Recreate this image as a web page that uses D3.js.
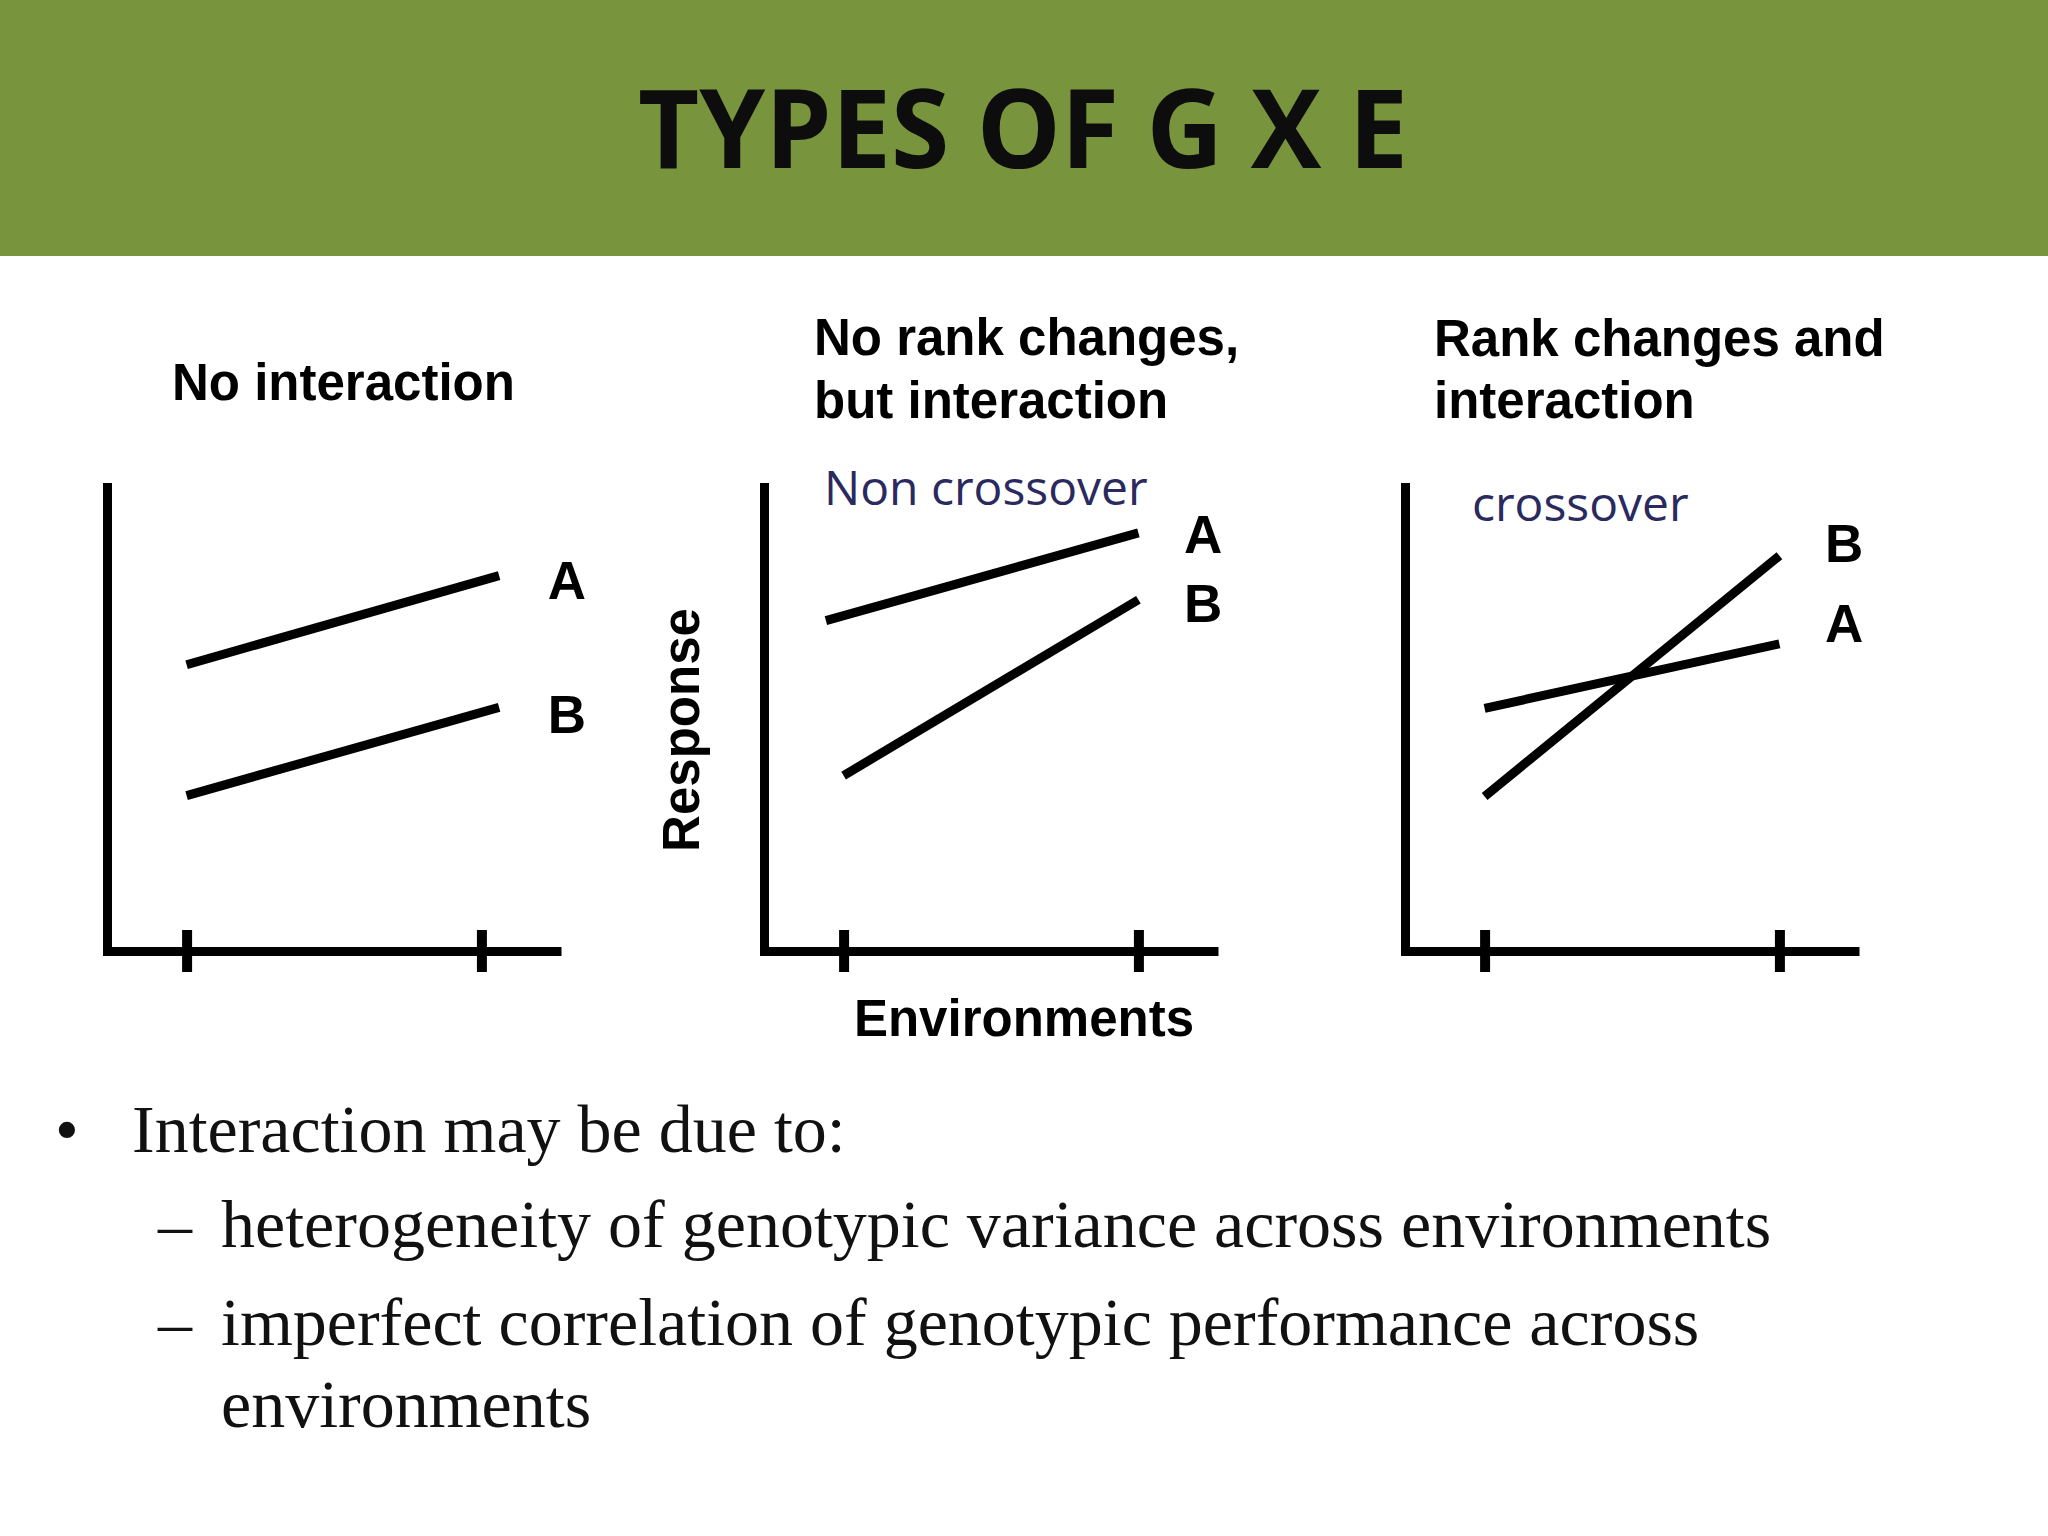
<!DOCTYPE html>
<html>
<head>
<meta charset="utf-8">
<script src="https://cdn.jsdelivr.net/npm/d3@7"></script>
<style>
  html, body { margin: 0; padding: 0; background: #ffffff; }
  svg { display: block; }
</style>
</head>
<body>
<div id="chart"></div>
<script>
// ---------------- data ----------------
const slideTitle = "TYPES OF G X E";
const panelTitles = [
  ["No interaction"],
  ["No rank changes,", "but interaction"],
  ["Rank changes and", "interaction"]
];
const panelNotes = ["", "Non crossover", "crossover"];
const genotypes = ["A", "B"];
const environments = [0, 1];          // the two environment ticks

// x positions (environment units) of each line's two ends
const noInterX_A = [0, 1.06];
const noInterX_B = [0, 1.06];
const nonCrossX_A = [-0.06, 1];
const nonCrossX_B = [0, 1];
const crossX_A = [0, 1];
const crossX_B = [0, 1];

// responses (0..10 response units) at the two ends
const noInterA = [6.17, 8.09];
const noInterB = [3.35, 5.25];
const nonCrossA = [7.12, 9.01];
const nonCrossB = [3.78, 7.57];
const crossA = [5.23, 6.62];
const crossB = [3.33, 8.52];

// label positions (x in env units, y in response units) for A and B
const labelX = [1.29, 1.22, 1.22];
const labelYA = [8.0, 8.98, 7.08];
const labelYB = [5.12, 7.5, 8.8];

const yAxisLabel = "Response";
const xAxisLabel = "Environments";

const bulletMain = "Interaction may be due to:";
const subBullets = [
  "heterogeneity of genotypic variance across environments",
  "imperfect correlation of genotypic performance across"
];
const subBulletWrap = "environments";

// ---------------- drawing ----------------
const W = 2048, H = 1536;
const svg = d3.select("#chart").append("svg")
  .attr("width", W).attr("height", H)
  .attr("viewBox", `0 0 ${W} ${H}`);

svg.append("rect").attr("width", W).attr("height", H).attr("fill", "#ffffff");

// header band
svg.append("rect").attr("x", 0).attr("y", 0).attr("width", W).attr("height", 256)
  .attr("fill", "#78943d");
svg.append("text")
  .attr("x", 638).attr("y", 168)
  .attr("textLength", 770).attr("lengthAdjust", "spacingAndGlyphs")
  .attr("font-family", "'Open Sans', 'Liberation Sans', sans-serif")
  .attr("font-weight", 700).attr("font-size", 109)
  .attr("fill", "#0d0d0d")
  .text(slideTitle);

const sans = "'Liberation Sans', Arial, Helvetica, sans-serif";
const serif = "'Liberation Serif', 'Times New Roman', serif";

const panelSeries = [
  { A: { x: noInterX_A, y: noInterA }, B: { x: noInterX_B, y: noInterB } },
  { A: { x: nonCrossX_A, y: nonCrossA }, B: { x: nonCrossX_B, y: nonCrossB } },
  { A: { x: crossX_A, y: crossA }, B: { x: crossX_B, y: crossB } }
];

// layout of the three small plots
const panelLayout = [
  { ox: 107, titleX: 172, titleY: [400], noteX: 0 },
  { ox: 764, titleX: 814, titleY: [355, 418], noteX: 824, noteY: 505 },
  { ox: 1405, titleX: 1434, titleY: [356, 418], noteX: 1472, noteY: 521 }
];
const baseY = 951, topY = 487, axisW = 454;

panelLayout.forEach((L, i) => {
  const g = svg.append("g");
  const x = d3.scaleLinear().domain([-0.27, 1.27]).range([L.ox, L.ox + axisW]);
  const y = d3.scaleLinear().domain([0, 10]).range([baseY, topY]);

  // x axis
  const gx = g.append("g").attr("transform", `translate(0,${baseY})`)
    .call(d3.axisBottom(x).tickValues(environments).tickFormat("")
      .tickSize(21).tickSizeOuter(0));
  gx.select(".domain").attr("stroke", "#000").attr("stroke-width", 9);
  gx.selectAll(".tick line").attr("y1", -21).attr("stroke", "#000").attr("stroke-width", 10);

  // y axis
  const gy = g.append("g").attr("transform", `translate(${L.ox},0)`)
    .call(d3.axisLeft(y).tickValues([]).tickSizeOuter(0));
  gy.select(".domain").attr("stroke", "#000").attr("stroke-width", 9)
    .attr("stroke-linecap", "square");

  // genotype lines
  const line = d3.line().x(d => x(d[0])).y(d => y(d[1]));
  genotypes.forEach(gt => {
    const s = panelSeries[i][gt];
    const pts = s.x.map((xv, j) => [xv, s.y[j]]);
    g.append("path").datum(pts)
      .attr("d", line).attr("fill", "none")
      .attr("stroke", "#000").attr("stroke-width", 9);
  });

  // genotype labels
  [["A", labelYA[i]], ["B", labelYB[i]]].forEach(([lab, ly]) => {
    g.append("text")
      .attr("x", x(labelX[i])).attr("y", y(ly)).attr("dy", "0.36em")
      .attr("text-anchor", "middle")
      .attr("font-family", sans).attr("font-weight", 700).attr("font-size", 53)
      .attr("fill", "#000")
      .text(lab);
  });

  // panel title
  panelTitles[i].forEach((t, k) => {
    g.append("text")
      .attr("x", L.titleX).attr("y", L.titleY[k])
      .attr("font-family", sans).attr("font-weight", 700).attr("font-size", 51)
      .attr("fill", "#000")
      .text(t);
  });

  // note
  if (panelNotes[i]) {
    g.append("text")
      .attr("x", L.noteX).attr("y", L.noteY)
      .attr("font-family", "'Open Sans', 'Noto Sans', sans-serif")
      .attr("font-size", 48).attr("fill", "#2a2a5e")
      .text(panelNotes[i]);
  }
});

// axis titles (middle panel)
svg.append("text")
  .attr("transform", "translate(699,730) rotate(-90)")
  .attr("text-anchor", "middle")
  .attr("font-family", sans).attr("font-weight", 700).attr("font-size", 51)
  .attr("fill", "#000")
  .text(yAxisLabel);
svg.append("text")
  .attr("x", 1024).attr("y", 1036)
  .attr("text-anchor", "middle")
  .attr("font-family", sans).attr("font-weight", 700).attr("font-size", 51)
  .attr("fill", "#000")
  .text(xAxisLabel);

// bullet text
const tg = svg.append("g").attr("font-family", serif).attr("font-size", 68).attr("fill", "#111");
tg.append("text").attr("x", 67).attr("y", 1152).attr("text-anchor", "middle").text("•");
tg.append("text").attr("x", 132).attr("y", 1152).text(bulletMain);
const subY = [1247, 1345];
subBullets.forEach((t, k) => {
  tg.append("text").attr("x", 158).attr("y", subY[k]).text("–");
  tg.append("text").attr("x", 221).attr("y", subY[k]).text(t);
});
tg.append("text").attr("x", 221).attr("y", 1427).text(subBulletWrap);
</script>
</body>
</html>
